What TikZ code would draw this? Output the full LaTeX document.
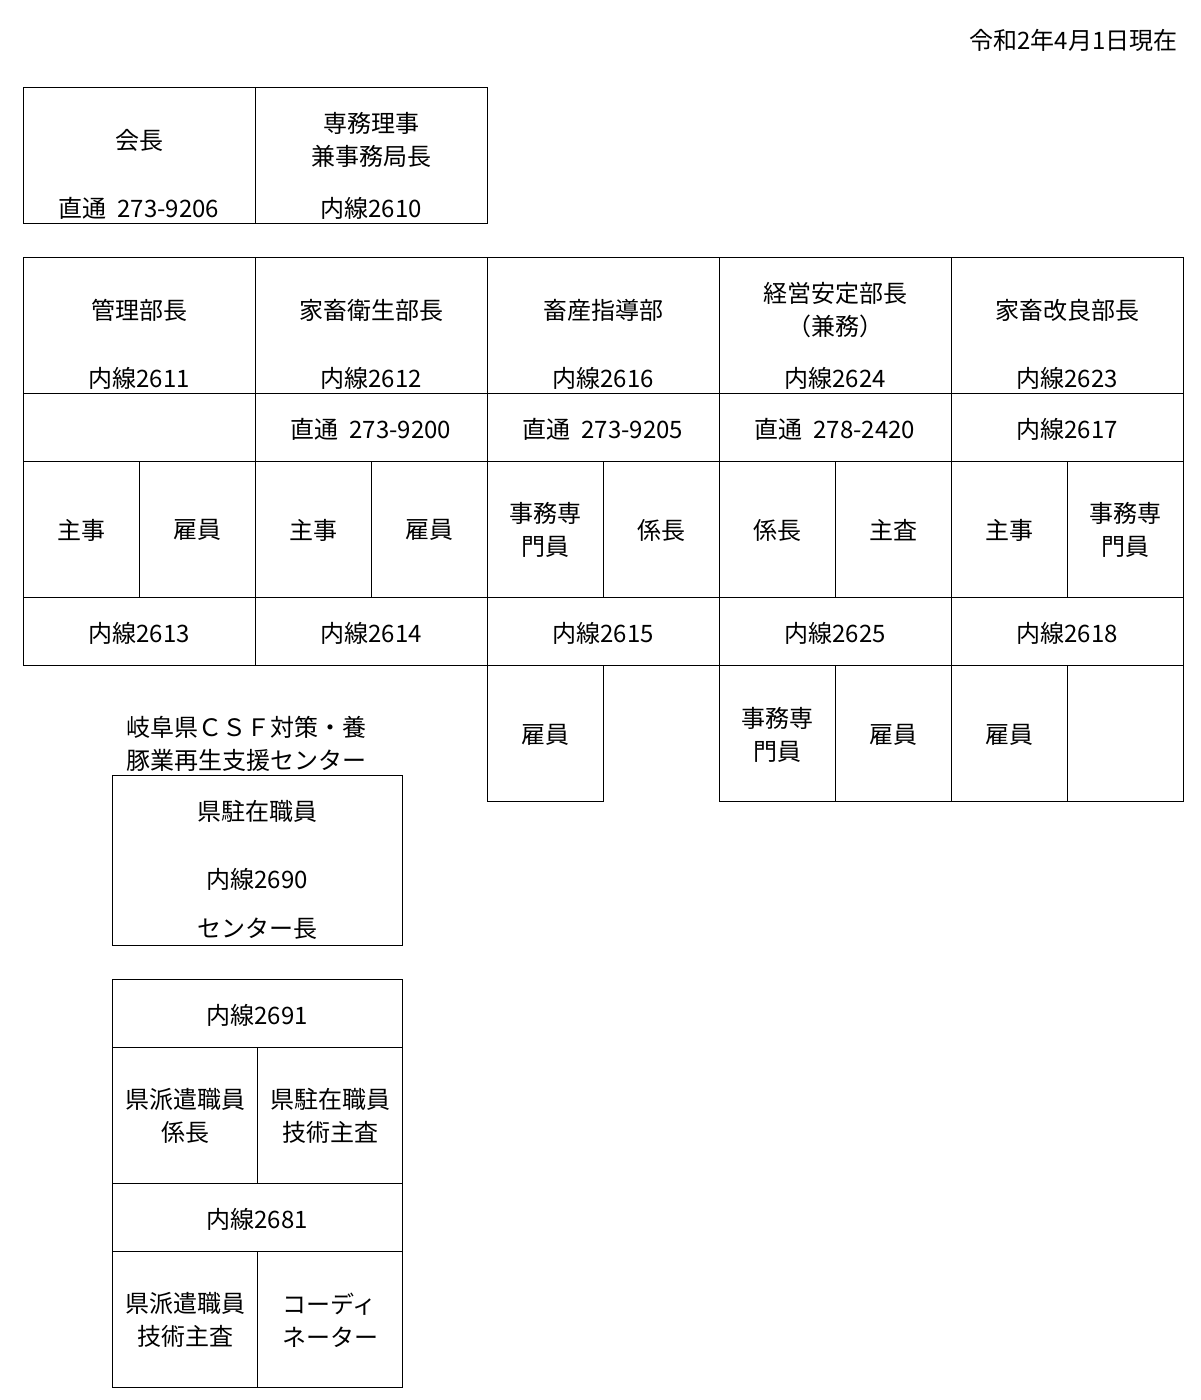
\documentclass[tikz,border=0pt]{standalone}
\usepackage{fontspec}
\setmainfont{Noto Sans CJK JP}
\begin{document}
\begin{tikzpicture}[x=1pt,y=-1pt,line width=1pt,
    lbl/.style={font=\fontsize{24}{33}\selectfont,align=center,inner sep=0pt},
    box/.style={draw=black}]
\useasboundingbox (0,0) rectangle (1200,1400);
\node[lbl,anchor=east] (date) at (1178,40) {令和2年4月1日現在};
% top
\draw (23,87) rectangle (255,223);
\draw (255,87) rectangle (487,223);
\node[lbl] (kaicho) at (139,140) {会長};
\node[lbl] (kaichoTel) at (139,208) {直通\ \ 273-9206};
\node[lbl] (riji) at (371,140) {専務理事\\兼事務局長};
\node[lbl] (rijiTel) at (371,208) {内線2610};
% department heads
\foreach \x in {23,255,487,719,951}{
  \draw (\x,257) rectangle ++(232,136);
  \draw (\x,393) rectangle ++(232,68);
  \draw (\x,461) rectangle ++(116,136);
  \draw (\x+116,461) rectangle ++(116,136);
  \draw (\x,597) rectangle ++(232,68);
}
\node[lbl] (kanri) at (139,310) {管理部長};
\node[lbl] (eisei) at (371,310) {家畜衛生部長};
\node[lbl] (shido) at (603,310) {畜産指導部};
\node[lbl] (keiei) at (835,310) {経営安定部長\\（兼務）};
\node[lbl] (kairyo) at (1067,310) {家畜改良部長};
\foreach \n/\x/\t in {kanriTel/139/2611,eiseiTel/371/2612,shidoTel/603/2616,keieiTel/835/2624,kairyoTel/1067/2623}
  \node[lbl] (\n) at (\x,378) {内線\t};
\node[lbl] (eiseiDir) at (371,429) {直通\ \ 273-9200};
\node[lbl] (shidoDir) at (603,429) {直通\ \ 273-9205};
\node[lbl] (keieiDir) at (835,429) {直通\ \ 278-2420};
\node[lbl] (kairyoExt) at (1067,429) {内線2617};
% staff
\foreach \n/\x/\t in {s1/81/主事,s2/197/雇員,s3/313/主事,s4/429/雇員,s5/545/事務専\\門員,s6/661/係長,s7/777/係長,s8/893/主査,s9/1009/主事,s10/1125/事務専\\門員}
  \node[lbl] (\n) at (\x,530) {\t};
\foreach \n/\x/\t in {e1/139/2613,e2/371/2614,e3/603/2615,e4/835/2625,e5/1067/2618}
  \node[lbl] (\n) at (\x,633) {内線\t};
% extra row
\draw (487,665) rectangle (603,801);
\foreach \x in {719,835,951,1067}
  \draw (\x,665) rectangle ++(116,136);
\node[lbl] (x1) at (545,735) {雇員};
\node[lbl] (x2) at (777,735) {事務専\\門員};
\node[lbl] (x3) at (893,735) {雇員};
\node[lbl] (x4) at (1009,735) {雇員};
% center
\node[lbl,align=left,anchor=west] (center) at (126,744) {岐阜県ＣＳＦ対策・養\\豚業再生支援センター};
\draw (112,775) rectangle (402,945);
\node[lbl] (ken) at (257,811) {県駐在職員};
\node[lbl] (kenTel) at (257,879) {内線2690};
\node[lbl] (cho) at (257,929) {センター長};
\draw (112,979) rectangle (402,1047);
\draw (112,1047) rectangle (257,1183);
\draw (257,1047) rectangle (402,1183);
\draw (112,1183) rectangle (402,1251);
\draw (112,1251) rectangle (257,1387);
\draw (257,1251) rectangle (402,1387);
\node[lbl] (c1) at (257,1015) {内線2691};
\node[lbl] (c2) at (185,1116) {県派遣職員\\係長};
\node[lbl] (c3) at (330,1116) {県駐在職員\\技術主査};
\node[lbl] (c4) at (257,1219) {内線2681};
\node[lbl] (c5) at (185,1320) {県派遣職員\\技術主査};
\node[lbl,align=left] (c6) at (330,1320) {コーディ\\ネーター};
\end{tikzpicture}
\end{document}
